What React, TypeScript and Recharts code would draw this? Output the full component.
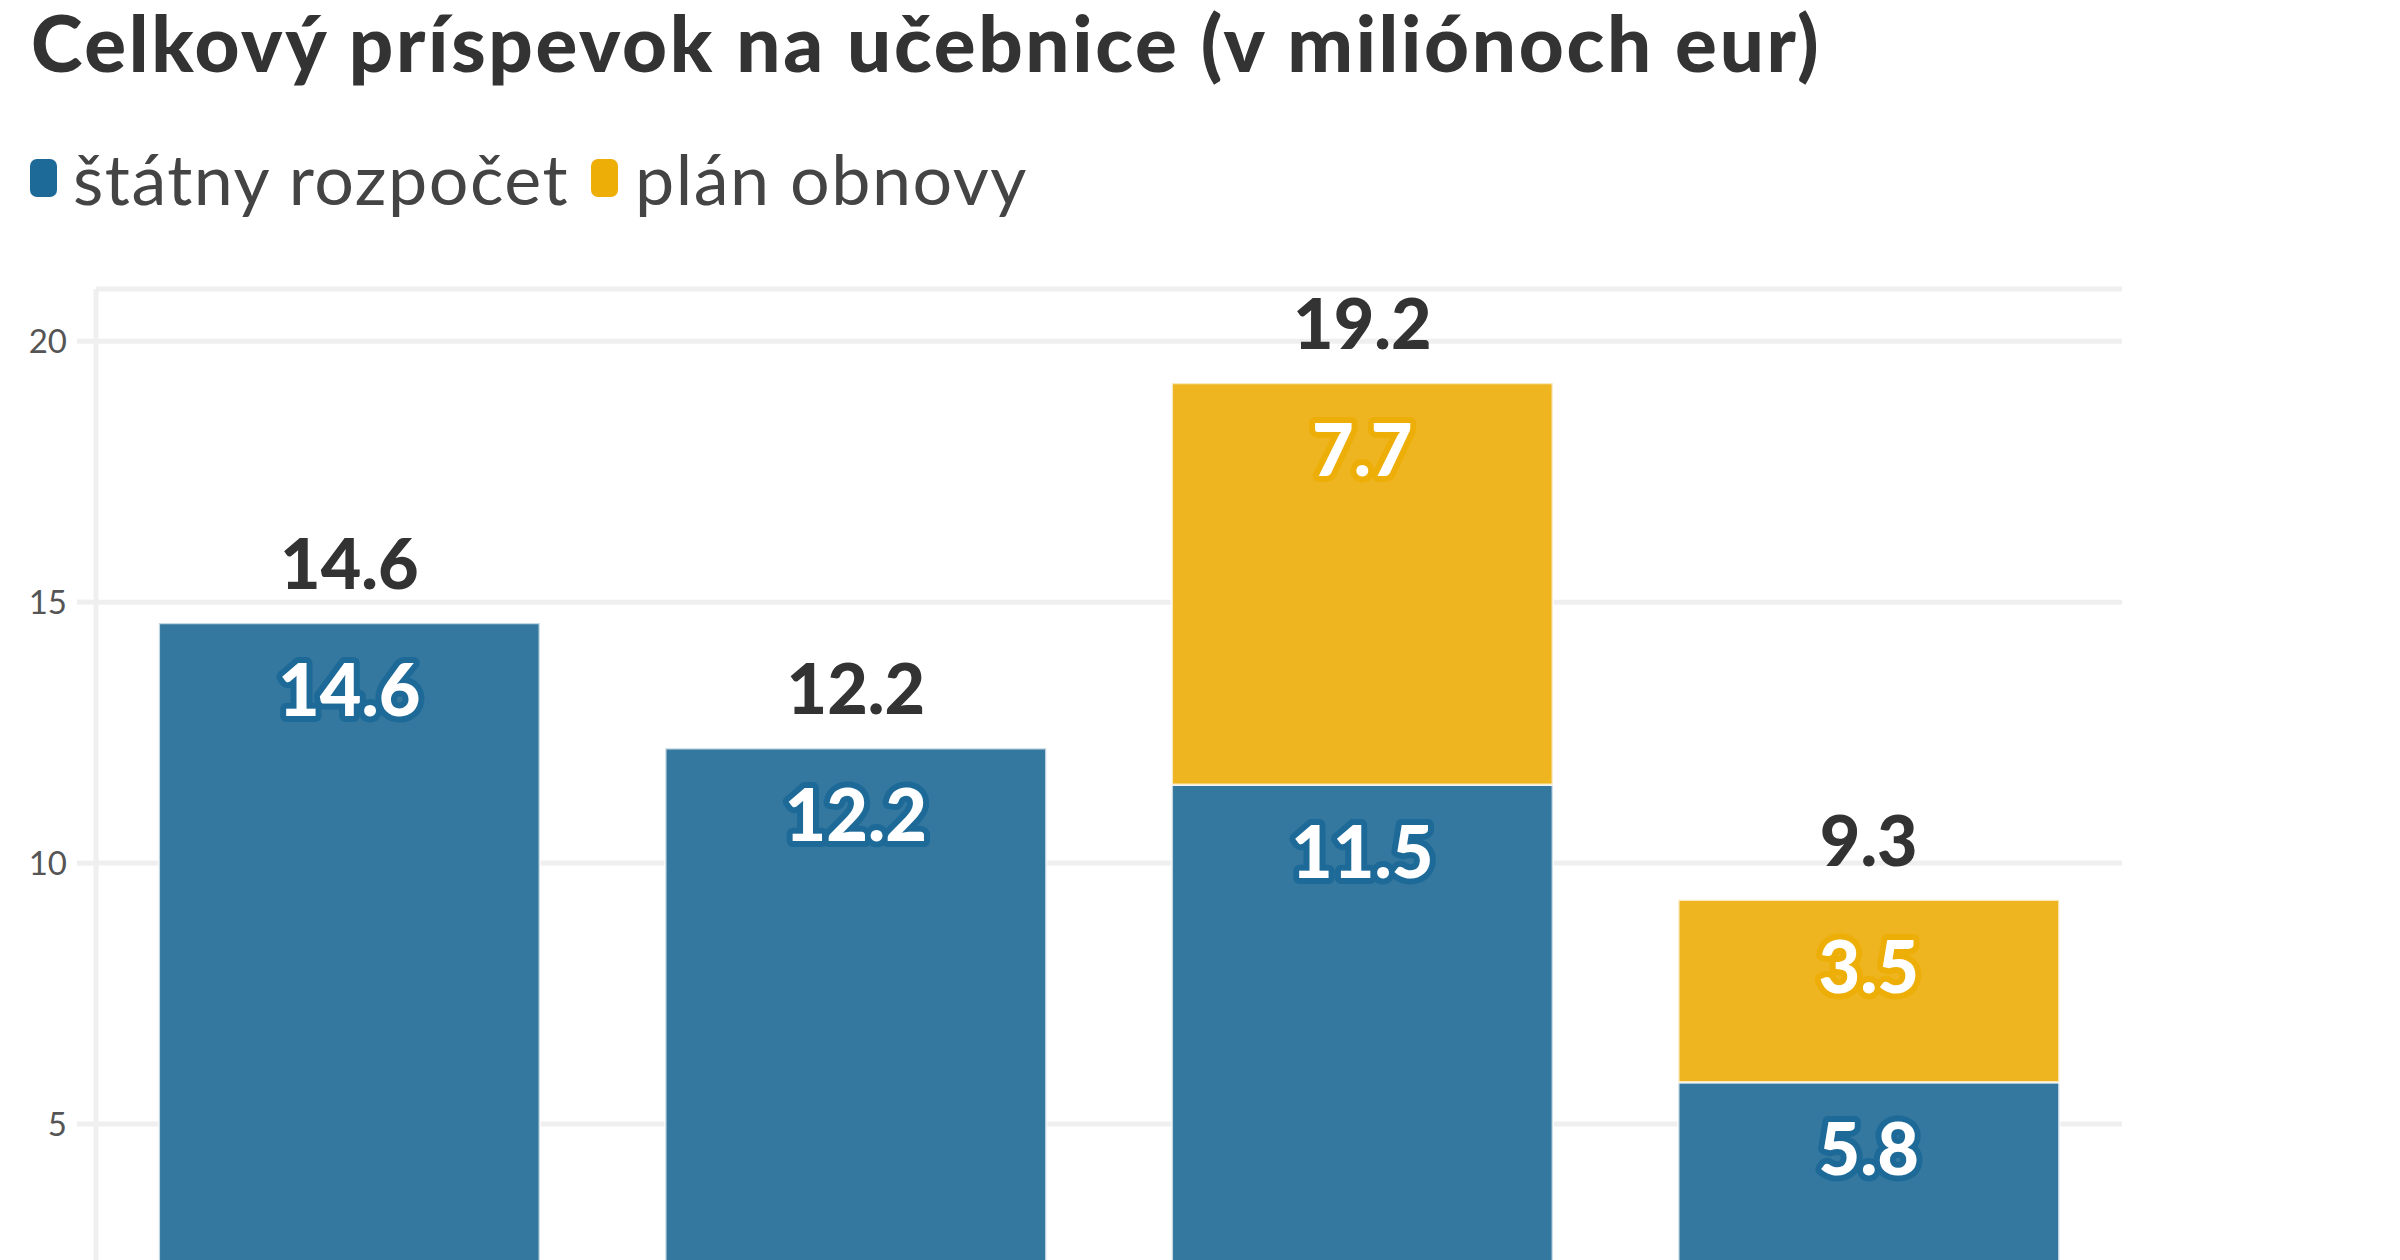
import React from "react";
import { BarChart, Bar, XAxis, YAxis, CartesianGrid, LabelList } from "recharts";

const FONT = "Lato, 'Noto Sans', sans-serif";
const BLUE = "#34789f";
const BLUE_DARK = "#1d6a98";
const YELLOW = "#eeb521";
const YELLOW_DARK = "#edae08";
const GRID = "#efefef";

const categories = ["2021", "2022", "2023", "2024"];
const statnyRozpocet = [14.6, 12.2, 11.5, 5.8];
const planObnovy = [0, 0, 7.7, 3.5];
const yTicks = [0, 5, 10, 15, 20];

// total sits on top of the highest visible segment
const data = categories.map((rok, i) => {
  const total = Math.round((statnyRozpocet[i] + planObnovy[i]) * 10) / 10;
  return {
    rok,
    statny: statnyRozpocet[i],
    plan: planObnovy[i],
    totalOnStatny: planObnovy[i] ? null : total,
    totalOnPlan: planObnovy[i] ? total : null,
  };
});

const insideLabel = (outline: string) => (props: any) => {
  const { x, y, width, value } = props;
  if (!value) return null;
  return (
    <text
      x={Number(x) + Number(width) / 2}
      y={Number(y) + 93}
      textAnchor="middle"
      fill="#fff"
      stroke={outline}
      strokeWidth={12}
      strokeLinejoin="round"
      paintOrder="stroke"
      style={{ fontFamily: FONT, fontSize: 72, fontWeight: 900 }}
    >
      {Number(value).toFixed(1)}
    </text>
  );
};

const totalLabel = (props: any) => {
  const { x, y, width, value } = props;
  if (value === null || value === undefined) return null;
  return (
    <text
      x={Number(x) + Number(width) / 2}
      y={Number(y) - 34}
      textAnchor="middle"
      fill="#333"
      style={{ fontFamily: FONT, fontSize: 70, fontWeight: 900 }}
    >
      {Number(value).toFixed(1)}
    </text>
  );
};

const marker = (color: string) => (
  <span
    style={{
      display: "inline-block",
      width: 27,
      height: 38,
      borderRadius: 7,
      background: color,
      flex: "none",
    }}
  />
);

export default function App() {
  return (
    <div
      style={{
        position: "fixed",
        top: 0,
        left: 0,
        width: 2400,
        height: 1260,
        overflow: "hidden",
        background: "#fff",
        fontFamily: FONT,
      }}
    >
      <div
        style={{
          position: "absolute",
          left: 31,
          top: 0,
          fontSize: 78,
          lineHeight: 1.1,
          fontWeight: 900,
          color: "#333",
          whiteSpace: "nowrap",
          letterSpacing: 2.7,
        }}
      >
        Celkový príspevok na učebnice (v miliónoch eur)
      </div>
      <div
        style={{
          position: "absolute",
          left: 30,
          top: 136,
          display: "flex",
          alignItems: "center",
          fontSize: 70,
          fontWeight: 400,
          color: "#444",
          whiteSpace: "nowrap",
          letterSpacing: 1.5,
        }}
      >
        {marker(BLUE_DARK)}
        <span style={{ marginLeft: 16, marginRight: 22 }}>štátny rozpočet</span>
        {marker(YELLOW_DARK)}
        <span style={{ marginLeft: 17 }}>plán obnovy</span>
      </div>
      <div style={{ position: "absolute", left: 0, top: 0 }}>
        <BarChart
          width={2400}
          height={1500}
          data={data}
          margin={{ top: 289, right: 278, left: 0, bottom: 55 }}
          barCategoryGap="12.4%"
        >
          <CartesianGrid vertical={false} stroke={GRID} strokeWidth={5} />
          <XAxis dataKey="rok" height={60} axisLine={false} tickLine={false} tick={{ fontSize: 32, fill: "#555" }} />
          <YAxis
            width={96}
            domain={[0, 21]}
            ticks={yTicks}
            tickSize={19}
            tickMargin={10}
            axisLine={{ stroke: GRID, strokeWidth: 5 }}
            tickLine={{ stroke: GRID, strokeWidth: 5 }}
            tick={{ fontSize: 33, fill: "#555", fontFamily: FONT }}
          />
          <Bar dataKey="statny" stackId="a" fill={BLUE} stroke="#fff" strokeWidth={2.5} strokeOpacity={0.7} isAnimationActive={false}>
            <LabelList dataKey="statny" content={insideLabel(BLUE_DARK)} />
            <LabelList dataKey="totalOnStatny" content={totalLabel} />
          </Bar>
          <Bar dataKey="plan" stackId="a" fill={YELLOW} stroke="#fff" strokeWidth={2.5} strokeOpacity={0.7} isAnimationActive={false}>
            <LabelList dataKey="plan" content={insideLabel(YELLOW_DARK)} />
            <LabelList dataKey="totalOnPlan" content={totalLabel} />
          </Bar>
        </BarChart>
      </div>
    </div>
  );
}
